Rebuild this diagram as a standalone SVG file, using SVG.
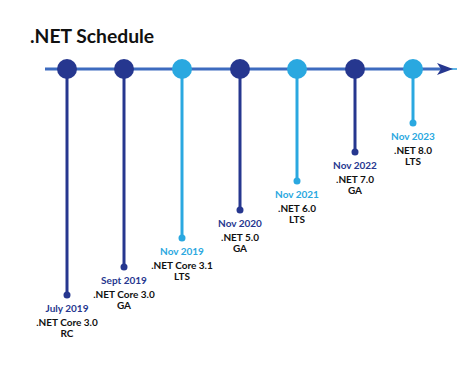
<svg xmlns="http://www.w3.org/2000/svg" width="474" height="365" viewBox="0 0 474 365">
<style>
.title{font-family:Lato,"Open Sans",sans-serif;font-weight:700;font-size:19.3px;fill:#111}
.d{font-family:Lato,"Open Sans",sans-serif;font-weight:700;font-size:10px;text-anchor:middle}
.t{font-family:Lato,"Open Sans",sans-serif;font-weight:700;font-size:10px;text-anchor:middle;fill:#111}
.dk{fill:#26378f}
.lt{fill:#2aa8e0}
.sdk{stroke:#26378f;stroke-width:3}
.slt{stroke:#2aa8e0;stroke-width:3}
</style>
<rect width="474" height="365" fill="#fff"/>
<text class="title" x="30" y="43">.NET Schedule</text>
<g id="connectors">
<line x1="45" y1="69" x2="448" y2="69" stroke="#3d6bbf" stroke-width="3"/>
<line x1="448" y1="69" x2="457" y2="69" stroke="#5fb7e6" stroke-width="2"/>
<path d="M437,63 L453,69 L437,75 L441,69 Z" fill="#26378f"/>
<line class="sdk" x1="67" y1="69" x2="67" y2="295"/>
<line class="sdk" x1="124" y1="69" x2="124" y2="267"/>
<line class="slt" x1="182" y1="69" x2="182" y2="238"/>
<line class="sdk" x1="240" y1="69" x2="240" y2="210"/>
<line class="slt" x1="297" y1="69" x2="297" y2="181"/>
<line class="sdk" x1="355" y1="69" x2="355" y2="152"/>
<line class="slt" x1="413" y1="69" x2="413" y2="123"/>
</g>
<g id="n1"><circle class="dk" cx="67" cy="69" r="10"/><circle class="dk" cx="67" cy="295" r="3.5"/>
<text class="d dk" x="67" y="312">July 2019</text><text class="t" x="67" y="326">.NET Core 3.0</text><text class="t" x="67" y="337">RC</text></g>
<g id="n2"><circle class="dk" cx="124" cy="69" r="10"/><circle class="dk" cx="124" cy="267" r="3.5"/>
<text class="d dk" x="124" y="284">Sept 2019</text><text class="t" x="124" y="298">.NET Core 3.0</text><text class="t" x="124" y="309">GA</text></g>
<g id="n3"><circle class="lt" cx="182" cy="69" r="10"/><circle class="lt" cx="182" cy="238" r="3.5"/>
<text class="d lt" x="182" y="255">Nov 2019</text><text class="t" x="182" y="269">.NET Core 3.1</text><text class="t" x="182" y="280">LTS</text></g>
<g id="n4"><circle class="dk" cx="240" cy="69" r="10"/><circle class="dk" cx="240" cy="210" r="3.5"/>
<text class="d dk" x="240" y="227">Nov 2020</text><text class="t" x="240" y="241">.NET 5.0</text><text class="t" x="240" y="252">GA</text></g>
<g id="n5"><circle class="lt" cx="297" cy="69" r="10"/><circle class="lt" cx="297" cy="181" r="3.5"/>
<text class="d lt" x="297" y="198">Nov 2021</text><text class="t" x="297" y="212">.NET 6.0</text><text class="t" x="297" y="223">LTS</text></g>
<g id="n6"><circle class="dk" cx="355" cy="69" r="10"/><circle class="dk" cx="355" cy="152" r="3.5"/>
<text class="d dk" x="355" y="169">Nov 2022</text><text class="t" x="355" y="183">.NET 7.0</text><text class="t" x="355" y="194">GA</text></g>
<g id="n7"><circle class="lt" cx="413" cy="69" r="10"/><circle class="lt" cx="413" cy="123" r="3.5"/>
<text class="d lt" x="413" y="140">Nov 2023</text><text class="t" x="413" y="154">.NET 8.0</text><text class="t" x="413" y="165">LTS</text></g>
</svg>
